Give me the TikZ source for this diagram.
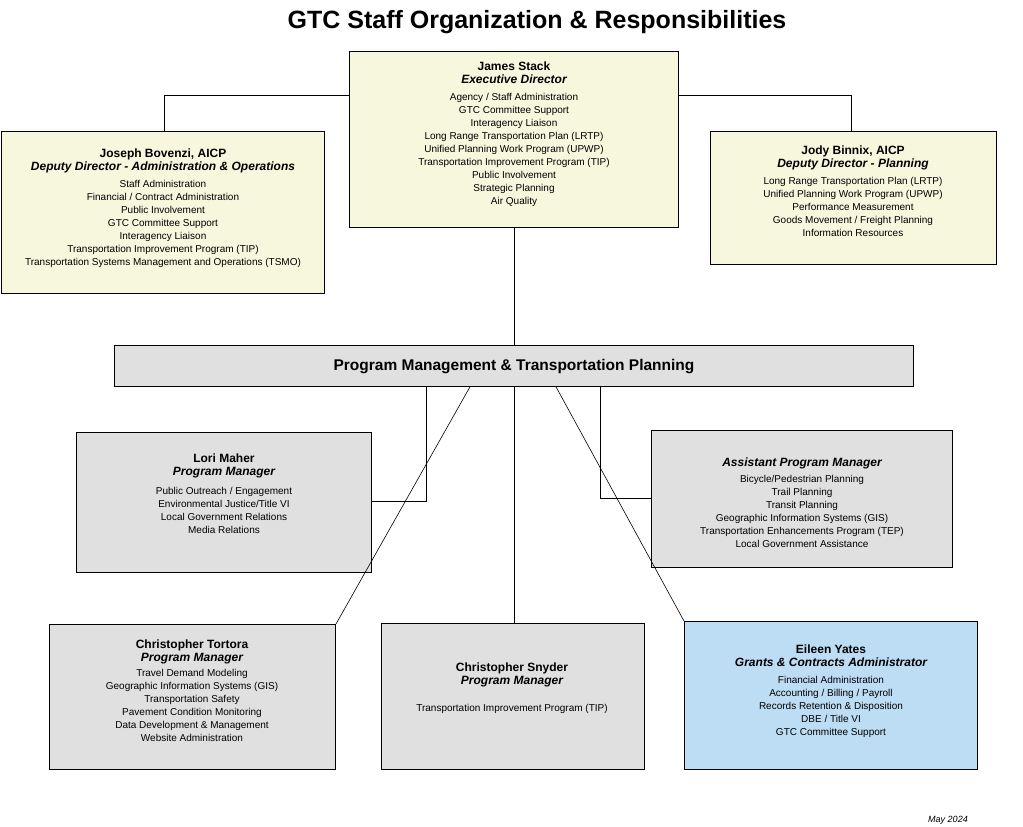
\documentclass[tikz,border=0pt]{standalone}
\usepackage{fontspec}
\setmainfont{Liberation Sans}
\begin{document}
\begin{tikzpicture}[x=1pt,y=-1pt,
 box/.style={draw=black,line width=1.3pt,anchor=north west,inner sep=0pt},
 txt/.style={anchor=north,align=center,inner sep=0pt,font=\fontsize{10}{13}\selectfont},
 hd/.style={font=\bfseries\fontsize{12}{16}\selectfont},
 ln/.style={draw=black,line width=0.6pt}]
\useasboundingbox (0,0) rectangle (1023,827);
\definecolor{yel}{HTML}{F7F7DE}\definecolor{gry}{HTML}{E0E0E0}\definecolor{blu}{HTML}{BDDDF4}
\node[font=\bfseries\fontsize{25}{30}\selectfont] (title) at (537,22) {GTC Staff Organization \& Responsibilities};
% boxes
\node[box,fill=yel,minimum width=329pt,minimum height=176pt] (js) at (349,51) {};
\node[box,fill=yel,minimum width=323pt,minimum height=162pt] (jb) at (1,131) {};
\node[box,fill=yel,minimum width=286pt,minimum height=133pt] (jy) at (710,131) {};
\node[box,fill=gry,line width=0.8pt,minimum width=799pt,minimum height=41pt] (pm) at (114,345) {};
\node[box,fill=gry,minimum width=295pt,minimum height=140pt] (lm) at (76,432) {};
\node[box,fill=gry,minimum width=301pt,minimum height=137pt] (ap) at (651,430) {};
\node[box,fill=gry,minimum width=286pt,minimum height=145pt] (ct) at (49,624) {};
\node[box,fill=gry,minimum width=263pt,minimum height=146pt] (cs) at (381,623) {};
\node[box,fill=blu,minimum width=293pt,minimum height=148pt] (ey) at (684,621) {};
% connectors
\draw[ln] (js.west|-0,95) -| (jb.north-|164,0);
\draw[ln] (js.east|-0,95) -| (jy.north-|851,0);
\draw[ln] (js.south) -- (pm.north-|js.south);
\draw[ln] (pm.south-|426,0) |- (lm.east|-0,501);
\draw[ln] (pm.south-|600,0) |- (ap.west|-0,498);
\draw[ln] (pm.south-|470,0) -- (ct.north-|336,0);
\draw[ln] (pm.south-|514,0) -- (cs.north-|514,0);
\draw[ln] (pm.south-|556,0) -- (ey.north-|684,0);
% texts
\node[txt] (t1) at (514,62) {{\bfseries\fontsize{12}{16}\selectfont James Stack}\\{\bfseries\itshape\fontsize{12}{16}\selectfont Executive Director}\\[4pt]
Agency / Staff Administration\\GTC Committee Support\\Interagency Liaison\\Long Range Transportation Plan (LRTP)\\Unified Planning Work Program (UPWP)\\Transportation Improvement Program (TIP)\\Public Involvement\\Strategic Planning\\Air Quality};
\node[txt] (t2) at (163,149) {{\bfseries\fontsize{12}{16}\selectfont Joseph Bovenzi, AICP}\\{\bfseries\itshape\fontsize{12}{16}\selectfont Deputy Director - Administration \& Operations}\\[4pt]
Staff Administration\\Financial / Contract Administration\\Public Involvement\\GTC Committee Support\\Interagency Liaison\\Transportation Improvement Program (TIP)\\Transportation Systems Management and Operations (TSMO)};
\node[txt] (t3) at (853,146) {{\bfseries\fontsize{12}{16}\selectfont Jody Binnix, AICP}\\{\bfseries\itshape\fontsize{12}{16}\selectfont Deputy Director - Planning}\\[4pt]
Long Range Transportation Plan (LRTP)\\Unified Planning Work Program (UPWP)\\Performance Measurement\\Goods Movement / Freight Planning\\Information Resources};
\node[font=\bfseries\fontsize{15.5}{18}\selectfont] (t4) at (514,367) {Program Management \& Transportation Planning};
\node[txt] (t5) at (224,454) {{\bfseries\fontsize{12}{16}\selectfont Lori Maher}\\{\bfseries\itshape\fontsize{12}{16}\selectfont Program Manager}\\[6pt]
Public Outreach / Engagement\\Environmental Justice/Title VI\\Local Government Relations\\Media Relations};
\node[txt] (t6) at (802,458) {{\bfseries\itshape\fontsize{12}{16}\selectfont Assistant Program Manager}\\[3pt]
Bicycle/Pedestrian Planning\\Trail Planning\\Transit Planning\\Geographic Information Systems (GIS)\\Transportation Enhancements Program (TEP)\\Local Government Assistance};
\node[txt] (t7) at (192,640) {{\bfseries\fontsize{12}{16}\selectfont Christopher Tortora}\\{\bfseries\itshape\fontsize{12}{16}\selectfont Program Manager}\\[2pt]
Travel Demand Modeling\\Geographic Information Systems (GIS)\\Transportation Safety\\Pavement Condition Monitoring\\Data Development \& Management\\Website Administration};
\node[txt] (t8) at (512,663) {{\bfseries\fontsize{12}{16}\selectfont Christopher Snyder}\\{\bfseries\itshape\fontsize{12}{16}\selectfont Program Manager}\\[14pt]
Transportation Improvement Program (TIP)};
\node[txt] (t9) at (831,645) {{\bfseries\fontsize{12}{16}\selectfont Eileen Yates}\\{\bfseries\itshape\fontsize{12}{16}\selectfont Grants \& Contracts Administrator}\\[4pt]
Financial Administration\\Accounting / Billing / Payroll\\Records Retention \& Disposition\\DBE / Title VI\\GTC Committee Support};
\node[font=\itshape\fontsize{9}{11}\selectfont] (date) at (948,820) {May 2024};
\end{tikzpicture}
\end{document}
